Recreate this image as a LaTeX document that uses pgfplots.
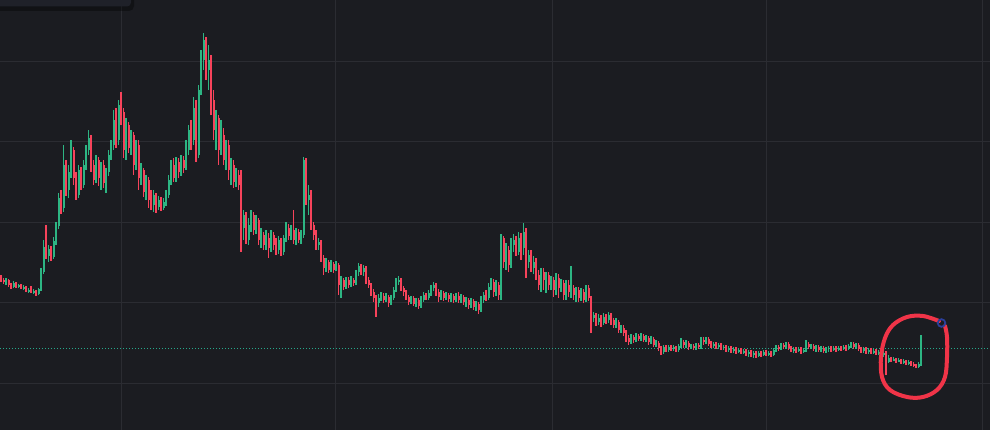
\documentclass[border=0pt]{standalone}
\usepackage{pgfplots}
\usepackage{pgfplotstable}
\pgfplotsset{compat=1.18}
\definecolor{bgc}{HTML}{1B1C21}
\definecolor{gridc}{HTML}{2B2C32}
\definecolor{upc}{HTML}{2DB583}
\definecolor{dnc}{HTML}{F7435B}
\definecolor{pricec}{HTML}{26A98B}
\definecolor{markc}{HTML}{F03448}
\definecolor{bluec}{HTML}{2B3F9A}
\definecolor{panelc}{HTML}{1F2129}
% o = open, c = close, t = top of wick, b = bottom of wick (screen units, y axis reversed)
\pgfplotstableread{
o c t b
277 280 275 282
280 282 278 284
282 280 278 285
280 285 279 287
285 287 283 289
287 283 281 288
283 286 282 288
286 285 284 288
285 288 284 289
288 287 285 290
287 291 286 292
291 290 288 293
290 292 286 293
292 291 289 294
291 294 290 296
294 289 288 295
289 272 268 291
272 247 240 274
247 256 225 259
256 249 245 262
249 257 246 261
257 241 237 259
241 226 222 245
226 198 193 229
198 208 190 214
208 165 145 212
165 190 160 196
190 172 165 198
172 150 140 178
150 178 147 185
178 195 172 200
195 170 165 198
170 185 167 190
185 165 160 188
165 150 145 170
150 138 130 155
138 165 135 172
165 180 160 185
180 160 155 183
160 178 157 186
178 165 162 190
165 183 160 188
183 172 168 193
172 155 150 176
155 145 140 160
145 120 110 150
120 140 108 148
140 105 100 145
105 112 92 125
112 150 108 158
150 125 118 160
125 148 122 153
148 135 130 155
135 165 132 175
165 145 140 170
145 178 140 190
178 170 163 185
170 192 168 197
192 180 175 200
180 200 177 208
200 205 190 210
205 195 190 212
195 207 193 213
207 200 196 210
200 208 197 211
208 202 198 210
202 195 190 206
195 180 175 198
180 165 160 185
165 178 158 182
178 162 157 182
162 172 158 178
172 160 155 176
160 168 156 173
168 150 140 170
150 130 125 155
130 140 120 150
140 108 97 145
108 155 100 162
155 90 85 158
90 60 50 95
60 40 33 70
40 70 37 80
70 60 45 90
60 100 55 115
100 130 90 140
130 118 110 150
118 150 115 165
150 135 120 155
135 160 128 165
160 145 140 170
145 170 140 180
170 165 158 185
165 182 160 188
182 175 168 187
175 185 170 190
185 228 170 252
228 215 210 240
215 240 212 244
240 225 218 245
225 215 210 232
215 230 212 235
230 220 215 234
220 240 218 245
240 235 228 248
235 245 232 250
245 238 230 250
238 248 233 258
248 235 230 252
235 245 232 250
245 250 238 255
250 240 236 254
240 252 238 256
252 238 235 255
238 228 222 242
228 236 224 240
236 230 225 240
230 240 210 244
240 232 228 245
232 240 229 243
240 235 230 244
235 160 157 238
160 200 158 205
200 195 185 215
195 225 190 230
225 235 222 240
235 245 230 250
245 242 238 250
242 258 240 262
258 268 255 275
268 262 258 272
262 270 260 273
270 264 260 272
264 270 262 273
270 265 261 271
265 285 263 295
285 280 276 298
280 287 278 290
287 280 277 289
280 285 277 288
285 280 276 287
280 283 278 286
283 272 270 285
272 266 263 276
266 272 264 275
272 268 265 276
268 280 266 284
280 285 277 288
285 292 283 296
292 298 289 302
298 303 295 317
303 298 294 307
298 296 292 301
296 300 293 303
300 297 293 302
297 303 295 307
303 298 295 305
298 290 287 300
290 282 278 292
282 280 276 285
280 288 278 291
288 292 286 296
292 297 290 300
297 302 295 305
302 298 296 304
298 304 296 306
304 300 298 307
300 306 298 309
306 300 296 308
300 295 292 302
295 298 293 300
298 293 290 300
293 288 285 296
288 285 282 291
285 292 283 296
292 297 289 302
297 293 290 300
293 298 291 301
298 295 292 300
295 299 293 302
299 296 293 302
296 300 294 303
300 296 293 302
296 300 292 303
300 297 294 303
297 302 295 305
302 300 297 307
300 305 298 309
305 301 298 308
301 307 299 310
307 304 301 311
304 310 302 314
310 300 296 312
300 295 292 303
295 298 290 301
298 287 283 300
287 282 278 290
282 292 279 297
292 285 280 296
285 295 282 300
295 238 234 300
238 262 236 268
262 250 243 270
250 265 246 272
265 245 238 268
245 240 234 252
240 252 236 256
252 238 232 255
238 248 233 260
248 232 223 255
232 262 228 278
262 255 250 268
255 268 250 272
268 262 256 274
262 275 258 280
275 285 270 290
285 272 268 292
272 280 268 290
280 275 272 293
275 285 272 290
285 280 276 290
280 290 277 297
290 278 273 295
278 288 274 298
288 283 279 292
283 295 280 300
295 285 280 300
285 292 280 297
292 288 266 298
288 295 285 300
295 290 287 302
290 298 287 302
298 292 288 301
292 300 289 303
300 288 285 302
288 298 285 301
298 318 296 333
318 315 312 322
315 322 313 326
322 318 314 325
318 323 315 327
323 317 313 325
317 320 314 324
320 315 312 323
315 320 313 325
320 325 318 328
325 322 318 328
322 330 320 333
330 328 325 333
328 333 325 336
333 338 330 342
338 342 335 345
342 337 334 344
337 340 335 343
340 336 333 342
336 339 334 341
339 336 333 341
336 340 334 342
340 338 335 342
338 342 336 345
342 339 336 344
339 345 337 347
345 343 340 347
343 348 341 351
348 352 346 355
352 347 345 354
347 350 345 352
350 347 345 352
347 349 345 351
349 347 345 351
347 350 346 352
350 346 344 352
346 342 338 348
342 345 340 348
345 343 340 348
343 347 341 350
347 346 344 349
346 348 344 350
348 345 343 350
345 347 343 349
347 340 337 349
340 342 337 345
342 339 337 344
339 344 337 346
344 346 341 348
346 344 342 348
344 347 342 349
347 345 343 349
345 348 343 350
348 347 345 350
347 350 345 352
350 348 346 352
348 351 346 353
351 349 347 353
349 352 347 354
352 350 348 353
350 352 348 354
352 351 349 354
351 354 349 356
354 352 350 357
352 355 350 357
355 353 351 358
353 356 351 358
356 353 351 357
353 355 351 357
355 352 350 356
352 354 350 356
354 353 351 356
353 355 351 357
355 350 348 356
350 347 345 352
347 349 345 351
349 345 343 350
345 347 343 349
347 344 342 349
344 348 342 350
348 350 346 352
350 349 347 353
349 351 347 353
351 349 347 352
349 352 347 354
352 350 348 353
350 344 340 352
344 347 342 349
347 346 344 349
346 349 344 351
349 347 345 352
347 350 345 352
350 348 346 352
348 351 346 353
351 349 347 353
349 348 346 352
348 350 346 352
350 348 346 351
348 350 346 352
350 348 346 351
348 349 346 351
349 347 345 350
347 349 345 351
349 346 344 350
346 344 342 348
344 347 342 349
347 345 343 349
345 349 343 351
349 351 347 353
351 349 347 353
349 352 347 354
352 350 348 354
350 352 348 354
352 351 349 354
351 353 349 355
353 352 350 355
352 354 350 356
354 353 351 357
353 362 351 375
362 358 355 363
358 360 357 362
360 359 357 361
359 361 358 363
361 360 358 362
360 362 359 364
362 361 359 364
361 363 360 365
363 362 360 365
362 364 361 366
364 365 362 367
365 367 364 368
367 364 362 368
364 359 335 366
}\candles

\begin{document}
\begin{tikzpicture}
\begin{axis}[
  width=990pt, height=430pt, scale only axis,
  xmin=0, xmax=990, ymin=0, ymax=430, y dir=reverse,
  axis background/.style={fill=bgc},
  axis line style={draw=none},
  tick style={draw=none},
  xtick={121.3,335.3,552.3,766.3,982.7},
  ytick={61.3,141.3,222.3,302.3,383.3},
  xticklabels={}, yticklabels={},
  grid=major,
  major grid style={color=gridc, line width=1pt},
  clip=true,
  candle/.style={draw=none, mark=none, fill=none, forget plot,
    error bars/.cd, y dir=both, y explicit, error mark=none,
    error bar style={#1}},
]
% current price line
\addplot[pricec, line width=1pt, dash pattern=on 1pt off 2pt, forget plot]
  coordinates {(0,348.5) (990,348.5)};
% wicks (up)
\addplot[candle={draw=upc, line width=1.1pt}]
  table[x expr=\coordindex*2.5+1,
        y expr={\thisrow{c}<\thisrow{o} ? (\thisrow{t}+\thisrow{b})/2 : nan},
        y error expr={(\thisrow{b}-\thisrow{t})/2}] {\candles};
% wicks (down)
\addplot[candle={draw=dnc, line width=1.1pt}]
  table[x expr=\coordindex*2.5+1,
        y expr={\thisrow{c}<\thisrow{o} ? nan : (\thisrow{t}+\thisrow{b})/2},
        y error expr={(\thisrow{b}-\thisrow{t})/2}] {\candles};
% bodies (up)
\addplot[candle={draw=upc, line width=2.0pt}]
  table[x expr=\coordindex*2.5+1,
        y expr={\thisrow{c}<\thisrow{o} ? (\thisrow{o}+\thisrow{c})/2 : nan},
        y error expr={max(abs(\thisrow{o}-\thisrow{c})/2,0.7)}] {\candles};
% bodies (down)
\addplot[candle={draw=dnc, line width=2.0pt}]
  table[x expr=\coordindex*2.5+1,
        y expr={\thisrow{c}<\thisrow{o} ? nan : (\thisrow{o}+\thisrow{c})/2},
        y error expr={max(abs(\thisrow{o}-\thisrow{c})/2,0.7)}] {\candles};
% tooltip panel at top left
\fill[black, opacity=0.35, rounded corners=5pt] (axis cs:-10,-20) rectangle (axis cs:134,11);
\fill[panelc, rounded corners=4pt] (axis cs:-10,-20) rectangle (axis cs:131,6.5);
% hand-drawn circle annotation
\draw[markc, line width=4pt, line cap=round, line join=round]
  plot[smooth, tension=0.6] coordinates {
  (axis cs:939,321) (axis cs:923,316) (axis cs:907,317) (axis cs:893,325)
  (axis cs:885,338) (axis cs:881,357) (axis cs:882,377) (axis cs:890,390)
  (axis cs:907,397) (axis cs:923,397) (axis cs:937,390) (axis cs:945,377)
  (axis cs:947,357) (axis cs:947,337) (axis cs:945,326)};
\draw[bluec, line width=1.8pt] (axis cs:941.5,323) circle[radius=3.8pt];
\end{axis}
\pgfresetboundingbox
\useasboundingbox (current axis.south west) rectangle (current axis.north east);
\end{tikzpicture}
\end{document}
